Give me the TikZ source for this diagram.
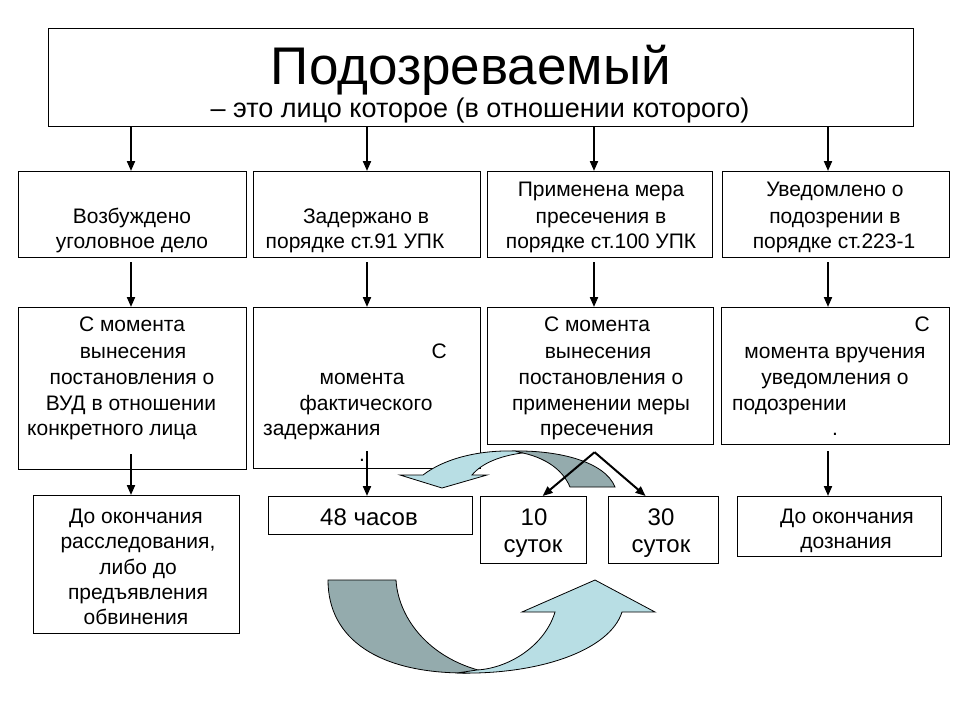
\documentclass[tikz,border=0pt]{standalone}
\usepackage{fontspec}
\setmainfont{Liberation Sans}
\usetikzlibrary{arrows.meta,calc}
\definecolor{darkband}{RGB}{148,171,173}
\definecolor{lightband}{RGB}{184,222,228}
\begin{document}
\begin{tikzpicture}[x=1pt,y=-1pt,
  box/.style={draw=black,line width=1.2pt,anchor=north west,inner sep=0pt},
  txt/.style={anchor=base,inner sep=0pt,font=\fontsize{21}{25}\selectfont},
  big/.style={anchor=base,inner sep=0pt,font=\fontsize{24}{28}\selectfont},
  conn/.style={line width=2pt,-{Triangle[length=10pt,width=8pt]}},
  band/.style={draw=black,line width=0.8pt}]
\useasboundingbox[fill=white] (0,0) rectangle (960,720);

% top box
\node[box,minimum width=865pt,minimum height=98pt] (top) at (48,28) {};
\node[anchor=base,inner sep=0pt,font=\fontsize{53}{58}\selectfont] (title) at (471,84) {Подозреваемый};
\node[anchor=base,inner sep=0pt,font=\fontsize{27}{30}\selectfont] (sub) at (480,117) {– это лицо которое (в отношении которого)};

% row 1
\node[box,minimum width=228pt,minimum height=86pt] (r1a) at (18,171) {};
\node[box,minimum width=227pt,minimum height=86pt] (r1b) at (253,171) {};
\node[box,minimum width=225pt,minimum height=86pt] (r1c) at (487,171) {};
\node[box,minimum width=227pt,minimum height=86pt] (r1d) at (722,171) {};

\node[txt] (t11) at (132,223) {Возбуждено};
\node[txt] (t12) at (132,248) {уголовное дело};
\node[txt] (t21) at (366,223) {Задержано в};
\node[txt] (t22) at (355,248) {порядке ст.91 УПК};
\node[txt] (t31) at (601,196) {Применена мера};
\node[txt] (t32) at (601,223) {пресечения в};
\node[txt] (t33) at (601,248) {порядке ст.100 УПК};
\node[txt] (t41) at (835,196) {Уведомлено о};
\node[txt] (t42) at (835,223) {подозрении в};
\node[txt] (t43) at (834,248) {порядке ст.223-1};

% row 2
\node[box,minimum width=228pt,minimum height=162pt] (r2a) at (18,307) {};
\node[box,minimum width=227pt,minimum height=161pt] (r2b) at (253,307) {};
\node[box,minimum width=226pt,minimum height=137pt] (r2c) at (487,307) {};
\node[box,minimum width=228pt,minimum height=137pt] (r2d) at (721,307) {};

\node[txt] (u11) at (132,331) {С момента};
\node[txt] (u12) at (133,358) {вынесения};
\node[txt] (u13) at (132,384) {постановления о};
\node[txt] (u14) at (131,410) {ВУД в отношении};
\node[txt,anchor=base west] (u15) at (27,435) {конкретного лица};

\node[txt,anchor=base east] (u21) at (447,358) {С};
\node[txt] (u22) at (362,384) {момента};
\node[txt] (u23) at (366,410) {фактического};
\node[txt,anchor=base west] (u24) at (263,435) {задержания};
\node[txt] (u25) at (362,461) {.};

\node[txt] (u31) at (597,331) {С момента};
\node[txt] (u32) at (598,358) {вынесения};
\node[txt] (u33) at (601,384) {постановления о};
\node[txt] (u34) at (601,410) {применении меры};
\node[txt] (u35) at (597,435) {пресечения};

\node[txt,anchor=base east] (u41) at (930,331) {С};
\node[txt] (u42) at (835,358) {момента вручения};
\node[txt] (u43) at (835,384) {уведомления о};
\node[txt,anchor=base west] (u44) at (732,410) {подозрении};
\node[txt] (u45) at (835,435) {.};

% row 3
\node[box,minimum width=206pt,minimum height=138pt] (r3a) at (33,495) {};
\node[box,minimum width=204pt,minimum height=38pt] (r3b) at (268,496) {};
\node[box,minimum width=106pt,minimum height=67pt] (r3c) at (480,496) {};
\node[box,minimum width=110pt,minimum height=67pt] (r3d) at (608,496) {};
\node[box,minimum width=204pt,minimum height=60pt] (r3e) at (737,496) {};

\node[txt] (v11) at (136,523) {До окончания};
\node[txt] (v12) at (138,548) {расследования,};
\node[txt] (v13) at (138,574) {либо до};
\node[txt] (v14) at (138,599) {предъявления};
\node[txt] (v15) at (136,624) {обвинения};
\node[big] (v2) at (369,525) {48 часов};
\node[big] (v31) at (534,525) {10};
\node[big] (v32) at (533,552) {суток};
\node[big] (v41) at (661,525) {30};
\node[big] (v42) at (661,552) {суток};
\node[txt] (v51) at (847,523) {До окончания};
\node[txt] (v52) at (846,548) {дознания};

% curved arrows
\filldraw[band,fill=darkband] (512,451) .. controls (560,450) and (605,462) .. (615,487)
  -- (570,487) .. controls (562,468) and (542,455) .. (512,451) -- cycle;
\filldraw[band,fill=lightband] (400,475) -- (423,475) .. controls (445,458) and (480,450) .. (515,451)
  -- (522,453) .. controls (500,456) and (482,463) .. (472,475) -- (487,475) -- (442,488) -- cycle;

\filldraw[band,fill=darkband] (328,580) -- (396,580) .. controls (398,615) and (425,655) .. (478,670)
  -- (465,673) .. controls (380,673) and (328,640) .. (328,580) -- cycle;
\filldraw[band,fill=lightband] (457,673) .. controls (540,675) and (610,650) .. (622,612)
  -- (655,612) -- (595,580) -- (522,612) -- (555,612)
  .. controls (545,645) and (510,668) .. (477,670) -- cycle;

% connectors
\coordinate (x1) at (131,0);
\coordinate (x2) at (367,0);
\coordinate (x3) at (594,0);
\coordinate (x4) at (828,0);

\draw[conn] (top.south -| x1) -- (r1a.north -| x1);
\draw[conn] (top.south -| x2) -- (r1b.north -| x2);
\draw[conn] (top.south -| x3) -- (r1c.north -| x3);
\draw[conn] (top.south -| x4) -- (r1d.north -| x4);

\draw[conn,shorten <=4pt] (r1a.south -| x1) -- (r2a.north -| x1);
\draw[conn,shorten <=4pt] (r1b.south -| x2) -- (r2b.north -| x2);
\draw[conn,shorten <=4pt] (r1c.south -| x3) -- (r2c.north -| x3);
\draw[conn,shorten <=4pt] (r1d.south -| x4) -- (r2d.north -| x4);

\draw[conn] ($(r2a.south -| x1)+(0,-16)$) -- (r3a.north -| x1);
\draw[conn] ($(r2b.south -| x2)+(0,-18)$) -- (r3b.north -| x2);
\draw[conn,shorten <=6pt] (r2d.south -| x4) -- (r3e.north -| x4);

\coordinate (apex) at ($(r2c.south)+(-6,7)$);
\draw[conn] (apex) -- ([xshift=9pt]r3c.north);
\draw[conn] (apex) -- ([xshift=-18pt]r3d.north);
\end{tikzpicture}
\end{document}
